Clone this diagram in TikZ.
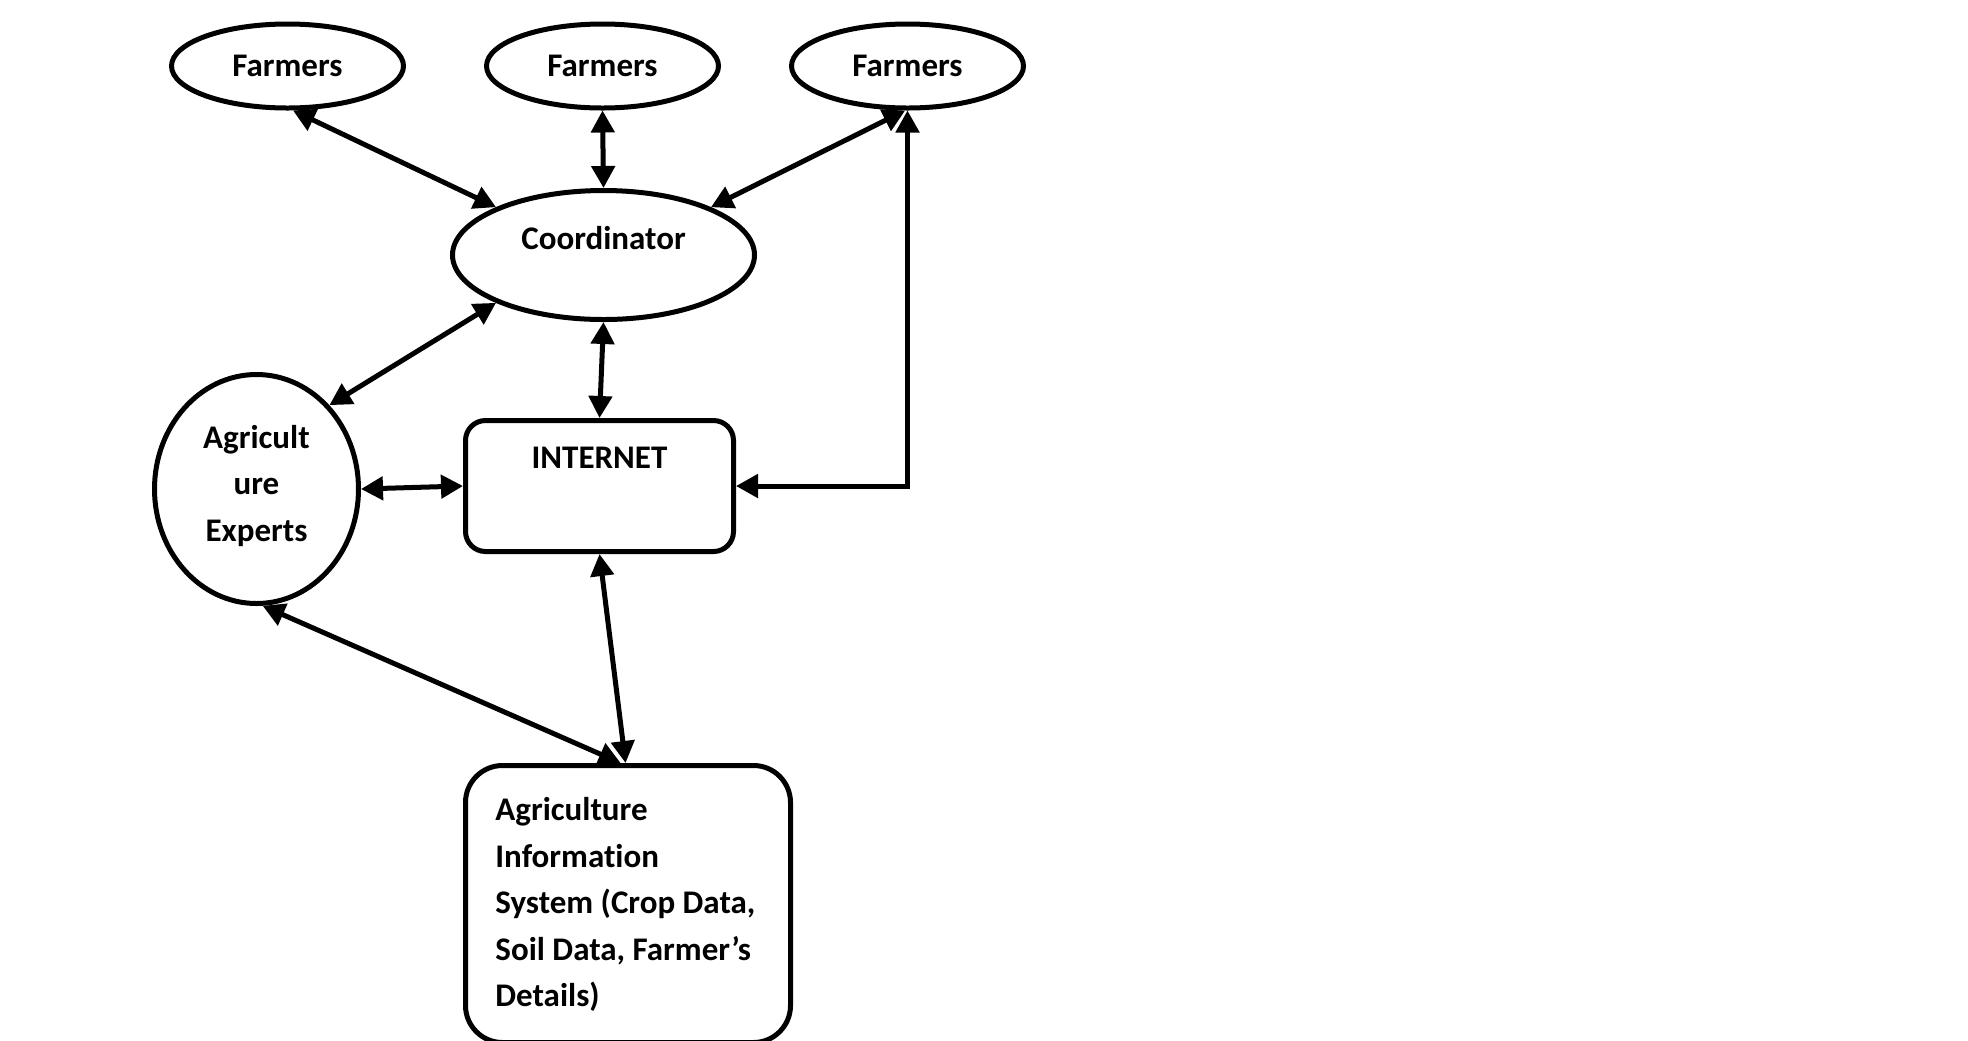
\documentclass[tikz,border=0pt]{standalone}
\usepackage{fontspec}
\setmainfont[Ligatures=NoCommon]{Carlito}
\usetikzlibrary{shapes.geometric,arrows.meta}
\begin{document}
\begin{tikzpicture}[x=0.5pt,y=-0.5pt,
  every node/.style={font=\bfseries\fontsize{16.5}{23.25}\selectfont},
  conn/.style={line width=2.5pt,{Triangle[length=11pt,width=11.5pt]}-{Triangle[length=11pt,width=11.5pt]}},
  oval/.style={draw,ellipse,line width=2.5pt,inner sep=0pt},
  rbox/.style={draw,rectangle,line width=2.5pt,inner sep=0pt}]
\useasboundingbox[fill=white] (0,0) rectangle (1968,1040);
% nodes
\node[oval,minimum width=116pt,minimum height=42pt] (F1) at (287.5,66) {Farmers};
\node[oval,minimum width=116pt,minimum height=42pt] (F2) at (602.5,66) {Farmers};
\node[oval,minimum width=116pt,minimum height=42pt] (F3) at (907.5,66) {Farmers};
\node[oval,minimum width=151pt,minimum height=64.5pt,
      label={[yshift=8.5pt]center:Coordinator}] (C) at (603.5,255) {};
\node[oval,minimum width=102pt,minimum height=114.5pt,
      label={[align=center,yshift=1.5pt]center:Agricult\\ure\\Experts}] (AE) at (256.5,489) {};
\node[rbox,rounded corners=10pt,minimum width=134pt,minimum height=65.5pt,
      label={[yshift=14pt]center:INTERNET}] (INT) at (599.5,486) {};
\node[rbox,rounded corners=18.5pt,minimum width=162.5pt,minimum height=138.5pt] (AIS) at (628,904) {};
\node[anchor=north west,align=left,inner sep=0pt] (AIStxt) at (495,797)
  {Agriculture\\Information\\System (Crop Data,\\Soil Data, Farmer’s\\Details)};
% connectors
\draw[conn] (F1.-83) -- (C.156);
\draw[conn] (F2.south) -- (C.north);
\draw[conn] (F3.-93) -- (C.24);
\draw[conn] (C.204) -- (AE.49);
\draw[conn] (C.south) -- (INT.north);
\draw[conn] (AE.east) -- (INT.west);
\draw[conn] (INT.east) -| (F3.south);
\draw[conn] (INT.south) -- (AIS.91);
\draw[conn] (AE.-87) -- (AIS.93.5);
\end{tikzpicture}
\end{document}
